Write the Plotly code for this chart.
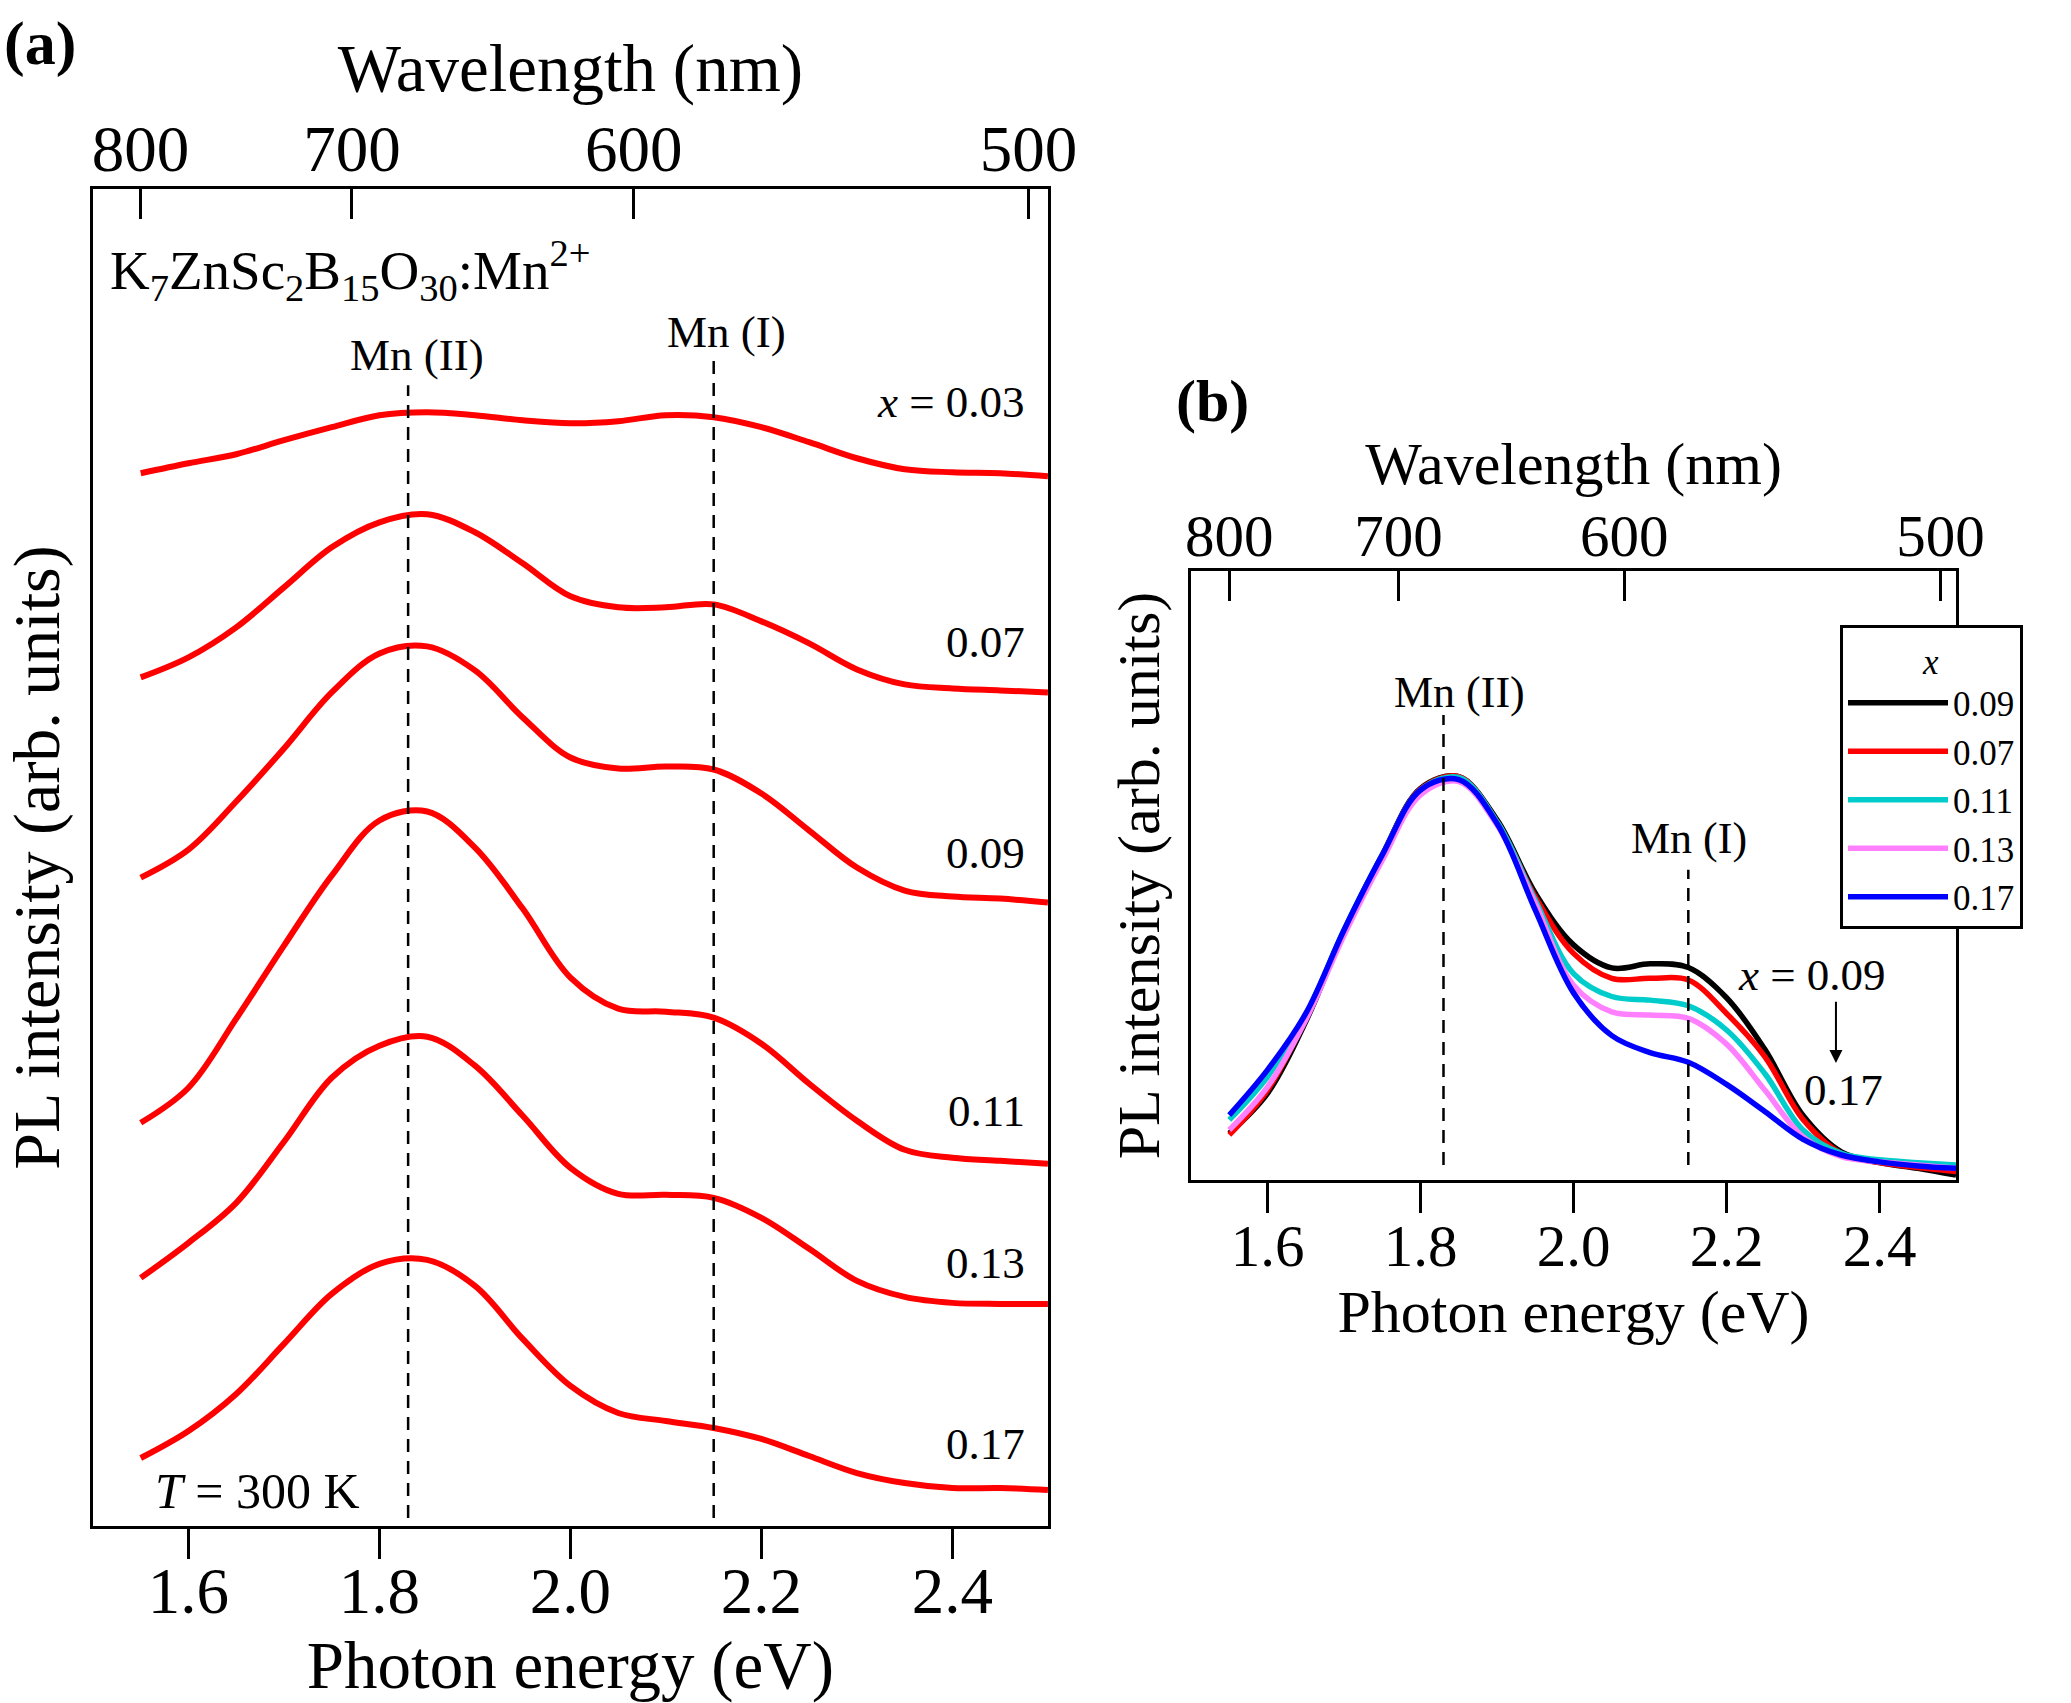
import plotly.graph_objects as go

# ---------------- data ----------------
energy = [1.55, 1.60, 1.65, 1.70, 1.75, 1.80, 1.85, 1.90, 1.95, 2.00,
          2.05, 2.10, 2.15, 2.20, 2.25, 2.30, 2.35, 2.40, 2.45, 2.50]

# panel (a): stacked PL spectra (arb. units, vertical offsets included)
a_labels = ["0.03", "0.07", "0.09", "0.11", "0.13", "0.17"]
a_x003 = [10.52, 10.62, 10.71, 10.85, 10.98, 11.10, 11.13, 11.10, 11.05, 11.02,
          11.04, 11.10, 11.08, 10.98, 10.83, 10.67, 10.56, 10.53, 10.52, 10.49]
a_x007 = [8.48, 8.68, 8.98, 9.38, 9.78, 10.03, 10.11, 9.93, 9.62, 9.29,
          9.18, 9.18, 9.21, 9.04, 8.82, 8.56, 8.41, 8.37, 8.35, 8.33]
a_x009 = [6.48, 6.76, 7.24, 7.77, 8.33, 8.72, 8.79, 8.55, 8.08, 7.68,
          7.57, 7.59, 7.56, 7.32, 6.95, 6.58, 6.35, 6.29, 6.27, 6.23]
a_x011 = [4.03, 4.38, 5.07, 5.80, 6.50, 7.05, 7.14, 6.78, 6.17, 5.48,
          5.17, 5.14, 5.08, 4.82, 4.42, 4.05, 3.76, 3.68, 3.65, 3.62]
a_x013 = [2.48, 2.83, 3.23, 3.84, 4.48, 4.80, 4.89, 4.60, 4.10, 3.58,
          3.32, 3.31, 3.28, 3.08, 2.77, 2.45, 2.29, 2.23, 2.22, 2.22]
a_x017 = [0.68, 0.95, 1.32, 1.82, 2.32, 2.62, 2.66, 2.40, 1.87, 1.40,
          1.13, 1.05, 0.98, 0.87, 0.70, 0.53, 0.43, 0.38, 0.38, 0.36]
a_series = [a_x003, a_x007, a_x009, a_x011, a_x013, a_x017]

# panel (b): normalized PL spectra
b_labels = ["0.09", "0.07", "0.11", "0.13", "0.17"]
b_x009 = [0.116, 0.215, 0.393, 0.616, 0.806, 0.971, 1.000, 0.893, 0.711, 0.583,
          0.526, 0.536, 0.527, 0.452, 0.324, 0.160, 0.070, 0.043, 0.029, 0.012]
b_x007 = [0.112, 0.223, 0.401, 0.618, 0.806, 0.969, 1.000, 0.888, 0.702, 0.562,
          0.500, 0.500, 0.496, 0.413, 0.306, 0.150, 0.066, 0.043, 0.031, 0.021]
b_x011 = [0.149, 0.256, 0.409, 0.620, 0.806, 0.967, 0.998, 0.888, 0.694, 0.512,
          0.455, 0.446, 0.432, 0.372, 0.264, 0.124, 0.066, 0.050, 0.043, 0.037]
b_x013 = [0.124, 0.231, 0.397, 0.607, 0.793, 0.955, 0.988, 0.880, 0.686, 0.483,
          0.417, 0.409, 0.401, 0.337, 0.223, 0.107, 0.058, 0.045, 0.037, 0.029]
b_x017 = [0.161, 0.273, 0.413, 0.620, 0.806, 0.967, 0.993, 0.884, 0.669, 0.464,
          0.358, 0.316, 0.292, 0.237, 0.170, 0.101, 0.062, 0.045, 0.035, 0.029]
b_series = [b_x009, b_x007, b_x011, b_x013, b_x017]

peak_mn2 = 1.83   # Mn(II) emission energy (eV)
peak_mn1 = 2.15   # Mn(I) emission energy (eV)
energy_ticks = [1.6, 1.8, 2.0, 2.2, 2.4]
wavelength_ticks = [800, 700, 600, 500]
HC = 1239.84  # eV nm

# ---------------- styles ----------------
FONT = "Liberation Serif"
b_colors = ["#000000", "#FF0000", "#00CCCC", "#FF80FF", "#0000FF"]
RED = "#FF0000"

fig = go.Figure()

for ys in a_series:
    fig.add_trace(go.Scatter(x=energy, y=ys, mode="lines", xaxis="x", yaxis="y",
                             line=dict(color=RED, width=6, shape="spline"),
                             showlegend=False, hoverinfo="skip"))

for ys, lab, col in zip(b_series, b_labels, b_colors):
    fig.add_trace(go.Scatter(x=energy, y=ys, mode="lines", xaxis="x2", yaxis="y2",
                             name=lab, line=dict(color=col, width=5.5, shape="spline")))

wl_energy = [HC / w for w in wavelength_ticks]
wl_text = [str(w) for w in wavelength_ticks]
# invisible anchors for the top (wavelength) axes
fig.add_trace(go.Scatter(x=wl_energy, y=[5] * len(wl_energy), xaxis="x3", yaxis="y",
                         mode="markers", marker=dict(opacity=0), showlegend=False, hoverinfo="skip"))
fig.add_trace(go.Scatter(x=wl_energy, y=[0.5] * len(wl_energy), xaxis="x4", yaxis="y2",
                         mode="markers", marker=dict(opacity=0), showlegend=False, hoverinfo="skip"))

xa_dom = [0.0449, 0.5060]
ya_dom = [0.1039, 0.8890]
xb_dom = [0.5751, 0.9445]
yb_dom = [0.3071, 0.6647]
a_yrange = [0, 13.36]
b_yrange = [0, 1.51]


def bottom_axis(domain, anchor, tfs, titfs, lab_off, standoff):
    return dict(domain=domain, anchor=anchor, range=[1.5, 2.5],
                tickvals=energy_ticks, ticktext=[f"{v:.1f}" for v in energy_ticks],
                ticks="outside", ticklen=30, tickwidth=2.5, tickcolor="black",
                ticklabelstandoff=lab_off,
                showline=True, linewidth=3, linecolor="black", mirror=False,
                showgrid=False, zeroline=False, automargin=False,
                tickfont=dict(family=FONT, size=tfs, color="black"),
                title=dict(text="Photon energy (eV)", standoff=standoff,
                           font=dict(family=FONT, size=titfs, color="black")))


def top_axis(over, anchor, tfs, titfs, lab_off, standoff):
    return dict(overlaying=over, anchor=anchor, side="top", range=[1.5, 2.5],
                tickvals=wl_energy, ticktext=wl_text,
                ticks="inside", ticklen=30, tickwidth=2.5, tickcolor="black",
                ticklabelstandoff=lab_off,
                showline=True, linewidth=3, linecolor="black",
                showgrid=False, zeroline=False, automargin=False,
                tickfont=dict(family=FONT, size=tfs, color="black"),
                title=dict(text="Wavelength (nm)", standoff=standoff,
                           font=dict(family=FONT, size=titfs, color="black")))


def left_axis(domain, anchor, rng, titfs, standoff):
    return dict(domain=domain, anchor=anchor, range=rng, showticklabels=False, ticks="",
                showline=True, linewidth=3, linecolor="black", mirror=True,
                showgrid=False, zeroline=False, automargin=False,
                title=dict(text="PL intensity (arb. units)", standoff=standoff,
                           font=dict(family=FONT, size=titfs, color="black")))


fig.update_layout(
    width=2071, height=1703,
    margin=dict(l=0, r=0, t=0, b=0),
    paper_bgcolor="white", plot_bgcolor="white",
    font=dict(family=FONT, color="black"),
    xaxis=bottom_axis(xa_dom, "y", 65, 67, -24, 32),
    xaxis3=top_axis("x", "y", 65, 67, -11, 0),
    yaxis=left_axis(ya_dom, "x", a_yrange, 66, 14),
    xaxis2=bottom_axis(xb_dom, "y2", 59, 60, -18, 8),
    xaxis4=top_axis("x2", "y2", 59, 60, -12, 0),
    yaxis2=left_axis(yb_dom, "x2", b_yrange, 60, 10),
    showlegend=True,
    legend=dict(x=1840 / 2071, y=1 - 625 / 1703, xanchor="left", yanchor="top",
                bgcolor="white", bordercolor="black", borderwidth=3,
                font=dict(family=FONT, size=35, color="black"),
                title=dict(text="<i>x</i>", side="top center",
                           font=dict(family=FONT, size=35, color="black")),
                tracegroupgap=0, itemwidth=100),
)

DASH = "13px,9px"
shapes = [
    dict(type="line", xref="x", yref="y", x0=peak_mn2, x1=peak_mn2, y0=0.08, y1=11.40,
         line=dict(color="black", width=2.5, dash=DASH)),
    dict(type="line", xref="x", yref="y", x0=peak_mn1, x1=peak_mn1, y0=0.08, y1=11.70,
         line=dict(color="black", width=2.5, dash=DASH)),
    dict(type="line", xref="x2", yref="y2", x0=peak_mn2, x1=peak_mn2, y0=0.037, y1=1.153,
         line=dict(color="black", width=2.5, dash=DASH)),
    dict(type="line", xref="x2", yref="y2", x0=peak_mn1, x1=peak_mn1, y0=0.037, y1=0.769,
         line=dict(color="black", width=2.5, dash=DASH)),
]
fig.update_layout(shapes=shapes)

ann = []


def txt(text, x, y, xref, yref, size, xanchor="center", yanchor="middle"):
    ann.append(dict(text=text, x=x, y=y, xref=xref, yref=yref, showarrow=False,
                    xanchor=xanchor, yanchor=yanchor,
                    font=dict(family=FONT, size=size, color="black")))


# panel labels
txt("<b>(a)</b>", 0.001, 0.996, "paper", "paper", 62, "left", "top")
txt("<b>(b)</b>", 1212 / 2071, 1 - 401 / 1703, "paper", "paper", 60)

# panel (a) texts
txt("K<sub>7</sub>ZnSc<sub>2</sub>B<sub>15</sub>O<sub>30</sub>:Mn<sup>2+</sup>",
    1.5157, 12.55, "x", "y", 55, "left")
txt("Mn (II)", peak_mn2 + 0.009, 11.70, "x", "y", 45)
txt("Mn (I)", peak_mn1 + 0.013, 11.93, "x", "y", 45)
a_label_y = [11.23, 8.83, 6.73, 4.15, 2.63, 0.82]
for lab, yy in zip(a_labels, a_label_y):
    t = ("<i>x</i> = " + lab) if lab == a_labels[0] else lab
    txt(t, 2.478, yy, "x", "y", 45, "right")
txt("<i>T</i> = 300 K", 1.563, 0.35, "x", "y", 50, "left")

# panel (b) texts
txt("Mn (II)", peak_mn2 + 0.021, 1.210, "x2", "y2", 44)
txt("Mn (I)", peak_mn1 + 0.001, 0.848, "x2", "y2", 44)
txt("<i>x</i> = " + b_labels[0], 2.411, 0.508, "x2", "y2", 45, "right")
txt(b_labels[-1], 2.407, 0.223, "x2", "y2", 45, "right")
ann.append(dict(x=2.343, y=0.290, ax=2.343, ay=0.446, xref="x2", yref="y2",
                axref="x2", ayref="y2", text="", showarrow=True,
                arrowhead=2, arrowsize=1.3, arrowwidth=2, arrowcolor="black"))

fig.update_layout(annotations=ann)

fig.write_html("out.html")
